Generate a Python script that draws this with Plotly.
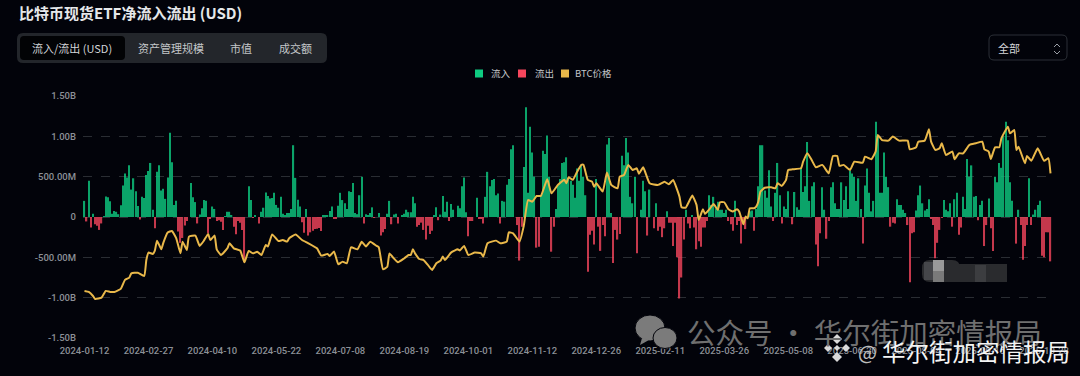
import plotly.graph_objects as go

net_flow_m = [
200,-55,450,-130,40,-90,-110,-160,-80,10,255,245,195,40,75,65,35,145,390,540,490,640,340,480,320,135,-30,250,235,520,570,670,90,-140,560,640,330,350,225,490,1045,680,150,200,-180,-320,-260,-105,-50,0,
420,245,185,-80,30,110,210,200,-200,-15,130,100,-50,-40,-60,-160,5,65,65,25,-120,-215,-50,-70,-160,-560,0,380,210,-10,15,0,-80,65,115,305,260,230,235,300,150,115,250,40,25,50,50,100,890,485,
215,130,-65,-195,100,-230,-190,-170,-150,-145,-135,-175,25,20,15,75,130,-15,-20,140,300,210,170,100,320,310,420,50,35,270,500,-80,35,20,50,120,-10,0,50,-230,-190,-150,40,200,-90,30,40,-80,0,15,
40,90,60,60,250,170,-120,-100,-70,-160,-280,-110,-210,-170,20,120,-40,30,260,65,190,-50,160,90,0,140,110,380,490,60,-240,-50,-50,0,240,-15,-20,-80,250,560,380,460,470,270,290,-80,200,190,400,470,
840,890,0,-100,-540,-120,620,1360,300,1120,800,500,-380,-370,260,820,780,1010,500,-430,-120,100,400,470,670,680,740,480,450,400,240,600,450,640,500,270,-680,-220,-170,-340,470,-120,-420,-100,-240,900,980,50,-570,-160,
-280,-210,760,640,980,800,250,170,500,-450,0,90,450,320,-230,340,0,-140,170,-170,-120,-250,-140,70,-70,-70,-360,-70,-500,-1010,-750,-280,90,-80,-140,20,-130,-400,-300,-370,-130,-130,-50,270,150,250,110,190,90,90,
50,90,-50,-90,-170,200,-100,-50,-330,-90,-150,0,70,80,-170,100,380,890,890,330,240,580,130,-50,300,670,270,-80,130,100,320,0,-90,310,120,90,610,310,380,930,200,380,430,-340,-610,-200,370,90,-270,-50,
370,430,170,100,100,430,210,380,100,570,540,500,200,480,100,-330,390,600,300,70,200,1180,1000,300,300,800,500,370,-120,-70,-80,220,150,150,90,50,-100,-810,-200,-190,80,270,390,170,80,100,220,-20,-100,-510,
-320,-160,-10,210,90,70,170,-120,220,300,-220,-130,250,100,720,500,640,250,260,-40,150,200,-360,-100,230,-140,-420,500,430,670,610,1000,1180,950,430,200,0,-330,90,-100,-530,-360,-100,480,-100,30,90,150,200,-480,
-500,-190,-190,-550,
]

btc_index = [0,2,4,5,8,10,12,14,17,19,21,22,25,28,29,30,32,33,34,36,37,39,41,43,45,46,48,49,52,54,56,58,59,61,62,64,67,68,70,73,75,77,79,81,83,85,86,88,91,93,95,96,99,102,105,109,111,114,115,117,119,121,123,125,128,130,132,134,137,138,140,142,143,145,147,150,152,
153,154,155,157,159,161,163,165,167,168,169,172,175,176,178,180,183,186,187,189,193,195,198,199,201,204,206,208,210,212,214,217,219,222,225,226,227,229,231,233,234,236,238,239,240,243,245,247,250,251,253,255,257,259,260,262,265,269,272,274,276,279,280,282,285,287,288,290,291,293,295,297,298,300,302,304,306,307,
308,309,310,311,312,314,315,316,317,319,322,324,325,327,329,330,332,336,337,339,341,343,346,349,351,353,354,356,359,361,365,366,369,371,372,374,377,379,382,386,387,390,391,394,396,397,399,401,402,404,407,408,410,412,415,418,421,422,424,425,427,429,430,433,434,436,437,438,441,442,444,447,450,452,453]
btc_price_k = [43,42.5,40.5,39,39.7,43,42.5,42.5,44,48.5,49.6,51.7,52,50.4,58.3,62,61.3,63,67.9,63.6,66.9,71.9,72.7,69.1,61.6,67.4,63.3,69.9,70.4,65.3,67.9,71.2,68.2,70.4,63.6,60.8,64.1,66.6,64.1,63,57.2,62.8,61.6,62.4,60.8,65.8,65,71,67.7,68.2,67.4,69.1,70.9,68.2,66.6,64.1,60.5,61.3,60.3,62.5,56.2,57.5,56.7,64.6,63.6,67.3,65,67.4,65.3,64.6,53.7,55,61.6,59.2,57.2,59.2,60.8,
60.8,63.6,61.6,58.8,58.3,55.9,53.4,56.7,58,60,58.3,62.1,63.6,63,65.3,60.8,62,61.6,60,66.6,67.9,66.6,67.4,72,71.5,67.4,75.2,88,87.2,90,90,98.3,91.3,95.5,98,96.3,99.3,98,102,105.4,105.4,98,97.1,94.6,96.3,92.2,101.6,95.5,93.8,99.6,100.4,105.4,102.9,103.7,101,104.2,96.3,95.5,97.1,95.8,97.9,89.7,84.4,84.3,90.2,85.6,78.1,83.4,81.1,83.4,86,83.1,86.9,86.9,83.4,82.3,83.4,82.3,
79,76,79.8,79,83.9,83.9,84.7,87.2,92.2,94.1,94.3,93.8,96.3,95,98,102.9,103.2,103.7,107,111.2,107.8,104.2,105.4,101.2,109.8,109.8,104.9,105.4,102.9,107,106.5,109.5,108.2,112,120.2,117.7,117.4,119.4,117.4,117.4,113.1,114.1,116.9,117.4,123,116.9,112.8,113.6,116.1,110.3,112,108.2,111.1,111.1,115.3,116.1,116.9,113.1,112,108.3,114.1,114.1,118.6,124.3,121,122.7,112.8,114.4,106.2,109.8,107.4,113.6,107.4,108.7,101.2]

tick_labels = ["2024-01-12","2024-02-27","2024-04-10","2024-05-22","2024-07-08","2024-08-19","2024-10-01","2024-11-12","2024-12-26","2025-02-11","2025-03-26","2025-05-08","2025-06-20","2025-08-04","2025-09-16","2025-10-28"]
tick_every = 30
y_ticks = [1500,1000,500,0,-500,-1000,-1500]
y_labels = ["1.50B","1.00B","500.00M","0","-500.00M","-1.00B","-1.50B"]
tabs = ["流入/流出 (USD)","资产管理规模","市值","成交额"]

W, H = 1080, 376
L, R, T, B = 83, 1052, 96, 338
GREEN, RED, GOLD = "#0ECB81", "#F6465D", "#E9B84A"
BG = "#02030A"
CJK = "Noto Sans CJK SC"

n = len(net_flow_m)
xs = list(range(n))
inflow = [v if v > 0 else None for v in net_flow_m]
outflow = [v if v < 0 else None for v in net_flow_m]

def px(x): return (x - L) / (R - L)
def py(y): return 1 - (y - T) / (B - T)

def rrect(x0, y0, x1, y1, r, **kw):
    a, b, c, d = px(x0), py(y0), px(x1), py(y1)
    rx, ry = r / (R - L), r / (B - T)
    path = (f"M {a+rx} {b} L {c-rx} {b} Q {c} {b} {c} {b-ry} L {c} {d+ry} Q {c} {d} {c-rx} {d} "
            f"L {a+rx} {d} Q {a} {d} {a} {d+ry} L {a} {b-ry} Q {a} {b} {a+rx} {b} Z")
    return dict(type="path", path=path, xref="paper", yref="paper", **kw)

def poly(points, close=True, **kw):
    s = "M " + " L ".join(f"{px(x)} {py(y)}" for x, y in points) + (" Z" if close else "")
    return dict(type="path", path=s, xref="paper", yref="paper", **kw)

def txt(x, y, s, size, color, anchor="left", weight=None, family=CJK):
    return dict(x=px(x), y=py(y), xref="paper", yref="paper", text=s, showarrow=False,
                xanchor=anchor, yanchor="middle", align=anchor,
                font=dict(size=size, color=color, family=family, weight=weight))

fig = go.Figure()
fig.add_bar(x=xs, y=inflow, name="流入", marker=dict(color=GREEN, line_width=0), width=0.6, opacity=0.8)
fig.add_bar(x=xs, y=outflow, name="流出", marker=dict(color=RED, line_width=0), width=0.6, opacity=0.8)
fig.add_scatter(x=btc_index, y=[p * 1000 for p in btc_price_k], name="BTC价格", mode="lines", yaxis="y2",
                line=dict(color=GOLD, width=2, shape="spline", smoothing=0.4))

shapes = [
    rrect(17, 33, 327, 63, 6, fillcolor="#23262B", line_width=0, layer="below"),
    rrect(20, 36, 125, 60, 4, fillcolor="#020305", line_width=0, layer="below"),
    rrect(989, 35, 1067, 60, 5, fillcolor="rgba(0,0,0,0)", line=dict(color="#2B2F36", width=1), layer="below"),
    poly([(1054, 47), (1057, 44), (1060, 47)], close=False, line=dict(color="#9A9EA6", width=1)),
    poly([(1054, 51), (1057, 54), (1060, 51)], close=False, line=dict(color="#9A9EA6", width=1)),
]
for x, c in ((475, GREEN), (518, RED), (561, GOLD)):
    shapes.append(dict(type="rect", xref="paper", yref="paper", x0=px(x), x1=px(x + 8), y0=py(77.5), y1=py(69.5),
                       fillcolor=c, line_width=0))

# redaction smear over the chart
shapes.append(rrect(922, 260, 960, 282, 8, fillcolor="#2A2B2E", line_width=0))
for x0, x1, y0, y1, c in [(945, 1007, 264, 282, "#2A2B2E"), (933, 944, 260, 271, "#9A9A9A"), (933, 944, 271, 282, "#7A7A7A"),
                          (924, 933, 262, 280, "#45464A"), (975, 986, 265, 282, "#3C3D40")]:
    shapes.append(dict(type="rect", xref="paper", yref="paper", x0=px(x0), x1=px(x1), y0=py(y0), y1=py(y1),
                       fillcolor=c, line_width=0))

# watermark: chat bubbles
for cx, cy, rx, ry in [(650, 328, 15, 13), (665, 338, 12, 10.5)]:
    shapes.append(dict(type="circle", xref="paper", yref="paper", x0=px(cx - rx), x1=px(cx + rx),
                       y0=py(cy + ry), y1=py(cy - ry), fillcolor="#7B7B7B", line=dict(color=BG, width=1)))
shapes.append(poly([(642, 338), (640, 345), (649, 340)], fillcolor="#7B7B7B", line_width=0))

# watermark: diamond mark
for cx, cy, s in [(837, 339, 5), (837, 357, 5), (828, 348, 4), (846, 348, 4), (837, 348, 3)]:
    shapes.append(poly([(cx, cy - s), (cx + s, cy), (cx, cy + s), (cx - s, cy)], fillcolor="#D9D9D9", line_width=0))

ann = [
    txt(17, 13, "比特币现货ETF净流入流出 (USD)", 15, "#E6E8EA", weight=700),
    txt(72, 48.5, tabs[0], 11, "#D4D6D9", "center"),
    txt(171, 48.5, tabs[1], 11, "#C4C6C9", "center"),
    txt(241, 48.5, tabs[2], 11, "#C4C6C9", "center"),
    txt(295, 48.5, tabs[3], 11, "#C4C6C9", "center"),
    txt(996, 48, "全部", 11, "#D4D6D9"),
    txt(489, 73.5, "流入", 9.5, "#C4C6C9"),
    txt(533, 73.5, "流出", 9.5, "#C4C6C9"),
    txt(573, 73.5, "BTC价格", 9.5, "#C4C6C9"),
    txt(685, 331, "公众号 · 华尔街加密情报局", 28.5, "#6F6F6F"),
    txt(856, 351, "@", 20, "#BDBDBD"),
    txt(880, 351, "华尔街加密情报局", 23.5, "#F4F4F4"),
]

fig.update_layout(
    width=W, height=H, margin=dict(l=L, r=W - R, t=T, b=H - B, pad=0),
    paper_bgcolor=BG, plot_bgcolor=BG, barmode="overlay", showlegend=False, bargap=0.3,
    font=dict(family="Roboto", color="#8C9097"),
    xaxis=dict(range=[-0.7, n - 0.3], tickmode="array",
               tickvals=[i * tick_every for i in range(len(tick_labels))], ticktext=tick_labels,
               tickfont=dict(size=9.5, color="#8C9097", family="Roboto", weight=500),
               showgrid=False, zeroline=False, showline=False, ticks="", tickangle=0, fixedrange=True,
               ticklabelstandoff=5),
    yaxis=dict(range=[-1500, 1500], tickmode="array", tickvals=y_ticks, ticktext=y_labels,
               tickfont=dict(size=9.5, color="#8C9097", family="Roboto", weight=500),
               showgrid=True, gridcolor="#2A2D33", griddash="dash", gridwidth=1,
               zeroline=False, showline=False, ticks="", ticklabelstandoff=6, fixedrange=True),
    yaxis2=dict(range=[19700, 139500], overlaying="y", side="right", visible=False, fixedrange=True),
    shapes=shapes, annotations=ann, hovermode=False,
)
fig.write_html("out.html", config=dict(displayModeBar=False),
               post_script=f"document.body.style.margin='0';document.body.style.background='{BG}';")
